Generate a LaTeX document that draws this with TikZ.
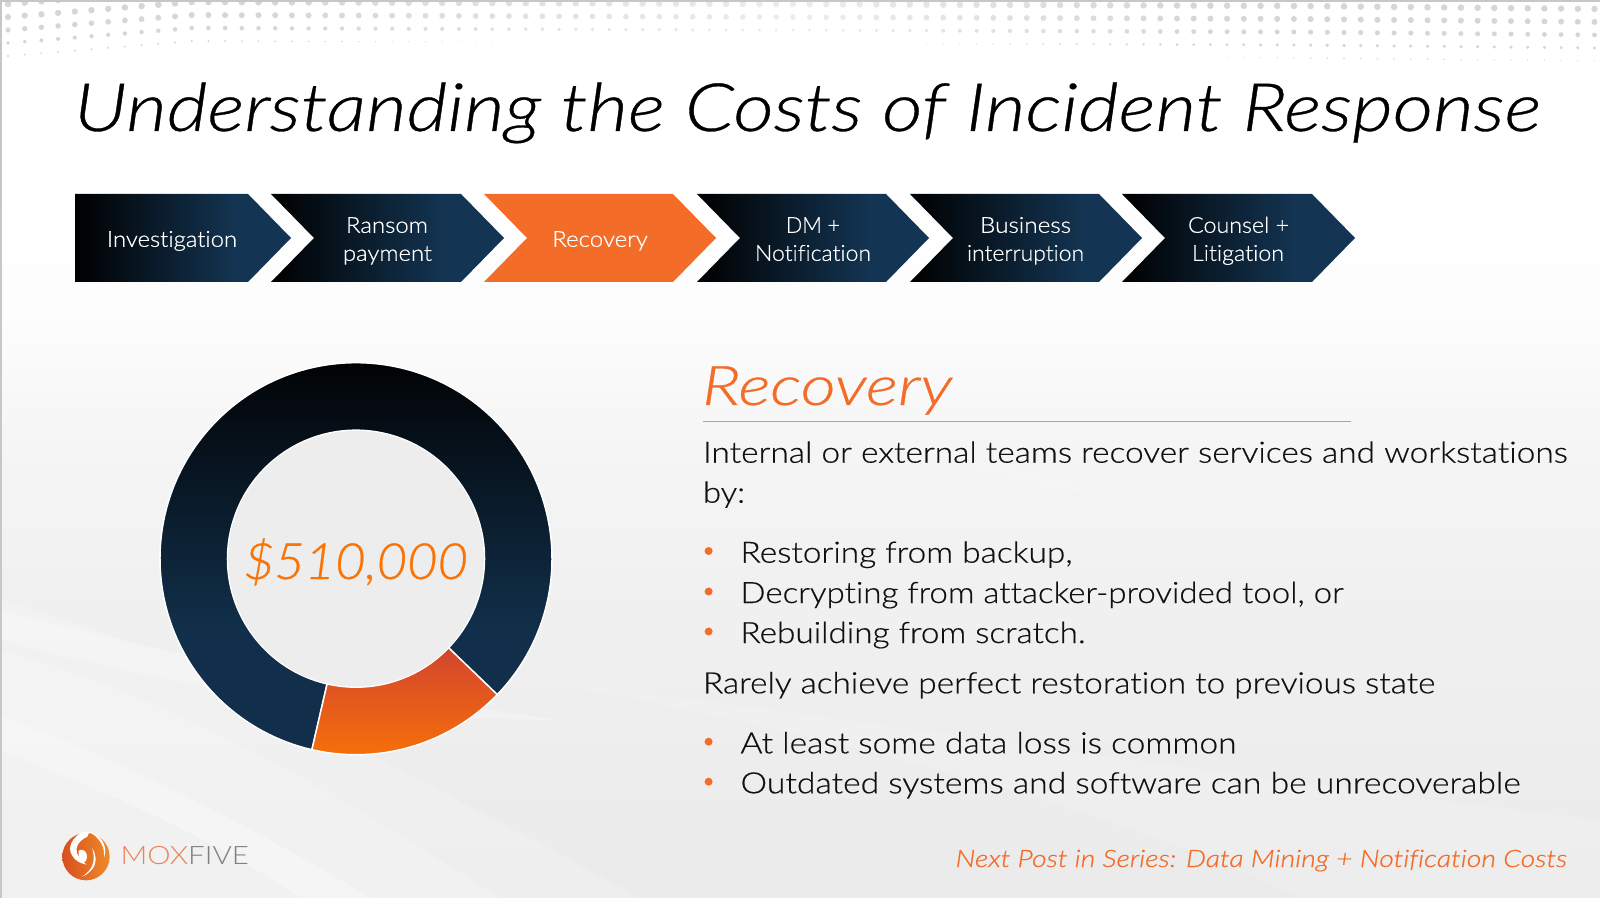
\documentclass[tikz,border=0pt]{standalone}
\usepackage{fontspec}
\usepackage{graphicx}
\setmainfont{Lato Light}[Ligatures=NoCommon]
\newfontfamily\ltf{Lato Light}[Ligatures=NoCommon,AutoFakeBold=0.5]
\newfontfamily\ltif{Lato Light Italic}[Ligatures=NoCommon,AutoFakeBold=0.5]
\definecolor{navy}{HTML}{133452}
\definecolor{hot}{HTML}{F36C28}
\definecolor{amber}{HTML}{F97306}
\definecolor{ink}{HTML}{111111}
\definecolor{sliceTop}{HTML}{D2452E}
\definecolor{logoa}{HTML}{D84F1F}
\definecolor{logob}{HTML}{F08A2A}
\definecolor{brandor}{HTML}{E8845A}
\pgfdeclareverticalshading{pagebg}{100bp}{color(0bp)=(white!92!black);color(25bp)=(white!92!black);color(40bp)=(white!94!black);color(50bp)=(white!96!black);color(57bp)=(white!99!black);color(65bp)=(white);color(100bp)=(white)}
\pgfdeclareverticalshading{donutdark}{100bp}{color(0bp)=(navy!90!black);color(25bp)=(navy!90!black);color(40bp)=(navy!90!black);color(75bp)=(black);color(100bp)=(black)}
\pgfdeclarehorizontalshading{chevsh}{100bp}{color(0bp)=(black);color(25bp)=(black);color(62bp)=(navy);color(100bp)=(navy)}
\newsavebox\fitbox
\newcommand\fitw[2]{\sbox\fitbox{#2}\pgfmathsetmacro\fitr{(#1)*0.75/\the\wd\fitbox}\scalebox{\fitr}[1]{\usebox\fitbox}}
\newcommand\fz[1]{\fontsize{#1}{#1}\selectfont}
\tikzset{
 lbl/.style={anchor=base west,inner sep=0pt,outer sep=0pt},
 clbl/.style={anchor=base,inner sep=0pt,outer sep=0pt,text=white,font=\ltf\bfseries\fz{16.5}},
 body/.style={lbl,text=ink,font=\ltf\bfseries\fz{22}},
 ital/.style={lbl,font=\ltif\bfseries},
 bul/.style={circle,fill=hot,inner sep=0pt,minimum size=6pt},
 streak/.style={fill=white,draw=none,opacity=#1},
 chevdark/.style={shading=chevsh},
}
\begin{document}
\begin{tikzpicture}[x=0.75pt,y=-0.75pt]
\useasboundingbox (0,0) rectangle (1600,898);
% page background
\path[shading=pagebg] (0,0) rectangle (1600,898);
% dot screen
\foreach \cx in {0,...,95}{
 \foreach \k in {0,...,5}{
  \pgfmathsetmacro\dx{8+16.7*\cx}
  \pgfmathsetmacro\bb{\dx<192 ? 4-(\dx-8)*0.0815 : (\dx<1300 ? -11+(\dx-192)*0.0036 : -7+(\dx-1300)*0.01)}
  \pgfmathsetmacro\yy{\bb+13*\k}
  \pgfmathsetmacro\ym{\dx<200 ? 68-0.09*\dx : (\dx<800 ? 50-(\dx-200)*0.0133 : (\dx<1300 ? 42+(\dx-800)*0.048 : 68))}
  \pgfmathsetmacro\op{\dx<250 ? 1 : (\dx<800 ? 1-(\dx-250)*0.001 : (\dx<1200 ? 0.45+(\dx-800)*0.001375 : 1))}
  \pgfmathsetmacro\rr{3.3*(1-(\yy/\ym)^2)}
  \pgfmathparse{(\rr>0.4 && \yy>-2) ? 1 : 0}
  \ifnum\pgfmathresult=1
   \fill[black!16,opacity=\op] (\dx,\yy) circle [radius=\rr*0.75pt];
  \fi
 }
}
% light streaks
\fill[streak=.18] (0,600) .. controls (150,640) and (350,740) .. (640,898) -- (0,898) -- cycle;
\fill[streak=.18] (0,650) .. controls (150,690) and (300,770) .. (500,898) -- (0,898) -- cycle;
\fill[streak=.25] (0,610) .. controls (150,650) and (350,690) .. (560,720) .. controls (350,720) and (150,680) .. (0,640) -- cycle;
\fill[streak=.30] (0,715) .. controls (120,760) and (260,830) .. (370,898) -- (300,898) .. controls (200,830) and (100,790) .. (0,750) -- cycle;
\fill[streak=.10] (230,275) .. controls (480,330) and (800,400) .. (1150,510) .. controls (800,420) and (480,350) .. (230,275) -- cycle;
\fill[streak=.12] (540,680) .. controls (800,710) and (1100,760) .. (1600,820) -- (1600,898) -- (1300,898) .. controls (1100,800) and (800,730) .. (540,680) -- cycle;
% slide frame
\draw[black!22,line width=1.5pt] (0.8,898) -- (0.8,0.8) -- (1600,0.8);
% title
\node[ital,text=black,font=\ltif\bfseries\fz{50}] (title) at (74,131) {\fitw{1467}{Understanding the Costs of Incident Response}};
% chevrons
\path[chevdark] (75,194) -- (248,194) -- (291,238) -- (248,282) -- (75,282) -- cycle;
\path[chevdark] (271,194) -- (461,194) -- (504,238) -- (461,282) -- (271,282) -- (314,238) -- cycle;
\fill[hot] (484,194) -- (673,194) -- (716,238) -- (673,282) -- (484,282) -- (527,238) -- cycle;
\path[chevdark] (697,194) -- (886,194) -- (929,238) -- (886,282) -- (697,282) -- (740,238) -- cycle;
\path[chevdark] (910,194) -- (1099,194) -- (1142,238) -- (1099,282) -- (910,282) -- (953,238) -- cycle;
\path[chevdark] (1122,194) -- (1312,194) -- (1355,238) -- (1312,282) -- (1122,282) -- (1165,238) -- cycle;
\node[clbl] (c1) at (172,246.8) {\fitw{130}{Investigation}};
\node[clbl] (c2a) at (387,232.8) {\fitw{82}{Ransom}};
\node[clbl] (c2b) at (387.5,260.8) {\fitw{89}{payment}};
\node[clbl] (c3) at (600,246.8) {\fitw{95.5}{Recovery}};
\node[clbl] (c4a) at (813,232.8) {\fitw{54}{DM +}};
\node[clbl] (c4b) at (813,260.8) {\fitw{116}{Notification}};
\node[clbl] (c5a) at (1025.5,232.8) {\fitw{91}{Business}};
\node[clbl] (c5b) at (1025.5,260.8) {\fitw{117}{interruption}};
\node[clbl] (c6a) at (1238.5,232.8) {\fitw{101}{Counsel +}};
\node[clbl] (c6b) at (1238,260.8) {\fitw{92}{Litigation}};
% donut
\begin{scope}[shift={(356,558.7)},x=0.75pt,y=0.75pt]
 \path[shading=donutdark,draw=white,line width=1.1pt] (-43.9:128.5) -- (-43.9:196) arc (-43.9:257:196) -- (257:128.5) arc (257:-43.9:128.5) -- cycle;
 \path[top color=sliceTop,bottom color=amber,draw=white,line width=1.1pt] (257:128.5) -- (257:196) arc (257:316.1:196) -- (316.1:128.5) arc (316.1:257:128.5) -- cycle;
 \fill[white!93!black] (0,0) circle [radius=127.8];
\end{scope}
\node[anchor=base,inner sep=0pt,text=amber,font=\ltif\bfseries\fz{37.5}] (amount) at (356,579) {\fitw{224}{\$510,000}};
% right-hand text
\node[ital,text=hot,font=\ltif\bfseries\fz{41}] (head) at (702,405) {\fitw{250}{Recovery}};
\coordinate (ruleL) at (703,421.7);
\coordinate (ruleR) at (1350.5,421.7);
\draw[black!35,line width=0.8pt] (ruleL) -- (ruleR);
\node[body] (t1) at (703,462.7) {\fitw{864.5}{Internal or external teams recover services and workstations}};
\node[body] (t2) at (703,502.7) {\fitw{42}{by:}};
\node[bul] (b1) at (708.6,551) {};
\node[bul] (b2) at (708.6,591.5) {};
\node[bul] (b3) at (708.6,631.5) {};
\node[body] (t3) at (740.5,562.7) {\fitw{332}{Restoring from backup,}};
\node[body] (t4) at (740.5,603) {\fitw{603}{Decrypting from attacker-provided tool, or}};
\node[body] (t5) at (740.5,643) {\fitw{345}{Rebuilding from scratch.}};
\node[body] (t6) at (703,693.3) {\fitw{732}{Rarely achieve perfect restoration to previous state}};
\node[bul] (b4) at (708.6,741.7) {};
\node[bul] (b5) at (708.6,781.7) {};
\node[body] (t7) at (740.5,753.3) {\fitw{496}{At least some data loss is common}};
\node[body] (t8) at (740.5,793.3) {\fitw{780}{Outdated systems and software can be unrecoverable}};
\node[ital,text=hot,font=\ltif\bfseries\fz{18}] (next) at (955.5,867) {\fitw{611.5}{Next Post in Series: Data Mining + Notification Costs}};
% logo
\begin{scope}[shift={(50,820)},x=0.25pt,y=-0.25pt]
 \path[left color=logoa,right color=logob] (108,110) circle [radius=71];
 \fill[white] (98,36) .. controls (70,50) and (50,80) .. (66,106) .. controls (76,124) and (92,130) .. (110,134) .. controls (92,120) and (76,104) .. (80,84) .. controls (83,70) and (92,60) .. (112,50) -- (118,36) -- cycle;
 \fill[white] (118,36) .. controls (150,42) and (176,76) .. (162,114) .. controls (166,80) and (148,52) .. (118,36) -- cycle;
 \fill[white] (86,92) .. controls (94,86) and (106,90) .. (110,102) .. controls (113,116) and (108,126) .. (100,128) .. controls (90,120) and (83,106) .. (86,92) -- cycle;
 \fill[white] (126,84) .. controls (138,100) and (142,126) .. (128,146) .. controls (118,158) and (108,166) .. (96,170) .. controls (112,160) and (126,146) .. (130,126) .. controls (133,110) and (130,96) .. (126,84) -- cycle;
\end{scope}
\node[lbl,font=\ltf\fz{19}] (brand) at (120.5,864.3) {\fitw{128.5}{\textcolor{brandor}{MOX}\textcolor{black!50}{FIVE}}};
\end{tikzpicture}
\end{document}
